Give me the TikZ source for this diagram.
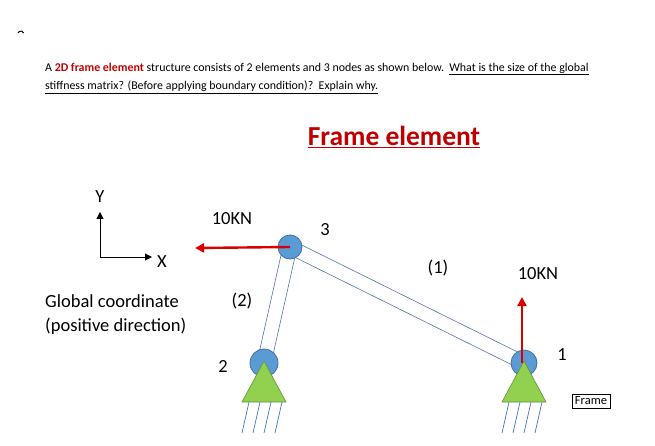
\documentclass[tikz,border=0pt]{standalone}
\usepackage{fontspec}
\setmainfont{Carlito}
\usetikzlibrary{arrows.meta,calc}
\definecolor{jblue}{RGB}{91,155,213}
\definecolor{jedge}{RGB}{65,113,156}
\definecolor{jgreen}{RGB}{146,208,80}
\definecolor{bar}{RGB}{68,114,196}
\definecolor{tred}{RGB}{192,0,0}
\tikzset{
 lbl/.style={font=\fontsize{18.5}{22}\selectfont, inner sep=0pt},
 joint/.style={circle, fill=jblue, draw=jedge, line width=0.8pt},
 force/.style={draw=red!85!black, line width=2.4pt, -{Triangle[length=9pt,width=9pt]}},
 axis/.style={draw=black, line width=1pt, -{Triangle[length=7pt,width=7pt]}},
 barline/.style={draw=bar!80!gray, line width=0.6pt},
 hatch/.style={draw=bar, line width=0.7pt}
}
\begin{document}
\begin{tikzpicture}[x=1pt,y=-1pt]
\useasboundingbox (0,0) rectangle (655,446);
\fill[white] (0,0) rectangle (655,446);
\draw[black, line width=1pt] (18,33) arc (200:340:3);
\node[anchor=west, inner sep=0pt, font=\fontsize{11.9}{14}\selectfont] (t1) at (45,69) {A \textcolor{tred}{\textbf{2D frame element}} structure consists of 2 elements and 3 nodes as shown below.\ \ \underline{What is the size of the global}};
\node[anchor=west, inner sep=0pt, font=\fontsize{11.9}{14}\selectfont] (t2) at (45,87) {\underline{stiffness matrix? (Before applying boundary condition)?\ \ Explain why.}};
\node[font=\fontsize{27.5}{32}\selectfont\bfseries, text=tred, inner sep=0pt] (title) at (394,137) {\underline{Frame element}};
% axes
\coordinate (o) at (100,257);
\coordinate (ye) at (100,212);
\coordinate (xe) at (152,257);
\draw[axis] (o) -- (ye);
\draw[axis] (o) -- (xe);
\node[lbl] (Y) at (100,197) {Y};
\node[lbl] (X) at (162,262) {X};
\node[lbl, anchor=west] (g1) at (45,301) {Global coordinate};
\node[lbl, anchor=west] (g2) at (45,326) {(positive direction)};
% joints positions
\coordinate (n3) at (290,247);
\coordinate (n2) at (264,363);
\coordinate (n1) at (524,363);
% bars
\draw[barline] ($(n3)!7pt!90:(n1)$) -- ($(n1)!7pt!-90:(n3)$);
\draw[barline] ($(n3)!7pt!-90:(n1)$) -- ($(n1)!7pt!90:(n3)$);
\draw[barline] ($(n3)!7pt!90:(n2)$) -- ($(n2)!7pt!-90:(n3)$);
\draw[barline] ($(n3)!7pt!-90:(n2)$) -- ($(n2)!7pt!90:(n3)$);
% supports
\foreach \p in {n2, n1} {
  \foreach \i in {0,1,2,3} {
    \draw[hatch] ($(\p)+(-15+\i*11,39)$) -- ++(-7,31);
  }
}
\node[joint, minimum size=28pt, inner sep=0pt] (c2) at (n2) {};
\node[joint, minimum size=26pt, inner sep=0pt] (c1) at (n1) {};
\node[joint, minimum size=24pt, inner sep=0pt] (c3) at (n3) {};
\fill[jgreen, draw=jgreen!70!black, line width=0.6pt] (264,361) -- (286,402) -- (242,402) -- cycle;
\fill[jgreen, draw=jgreen!70!black, line width=0.6pt] (524,361) -- (546,402) -- (502,402) -- cycle;
% forces
\coordinate (f3) at (195,248);
\coordinate (f1) at (522,297);
\draw[force] (c3.center) -- (f3);
\draw[force] ($(c1.center)+(-2,0)$) -- (f1);
\node[lbl] (F3) at (232,219) {10KN};
\node[lbl] (F1) at (538,274) {10KN};
\node[lbl] (l3) at (325,230) {3};
\node[lbl] (l1b) at (438,268) {(1)};
\node[lbl] (l2b) at (242,301) {(2)};
\node[lbl] (l2) at (223,366) {2};
\node[lbl] (l1) at (562,355) {1};
\node[draw=black, line width=0.5pt, font=\fontsize{12.5}{15}\selectfont, inner sep=3pt] (fr) at (591,401) {Frame};
\end{tikzpicture}
\end{document}
